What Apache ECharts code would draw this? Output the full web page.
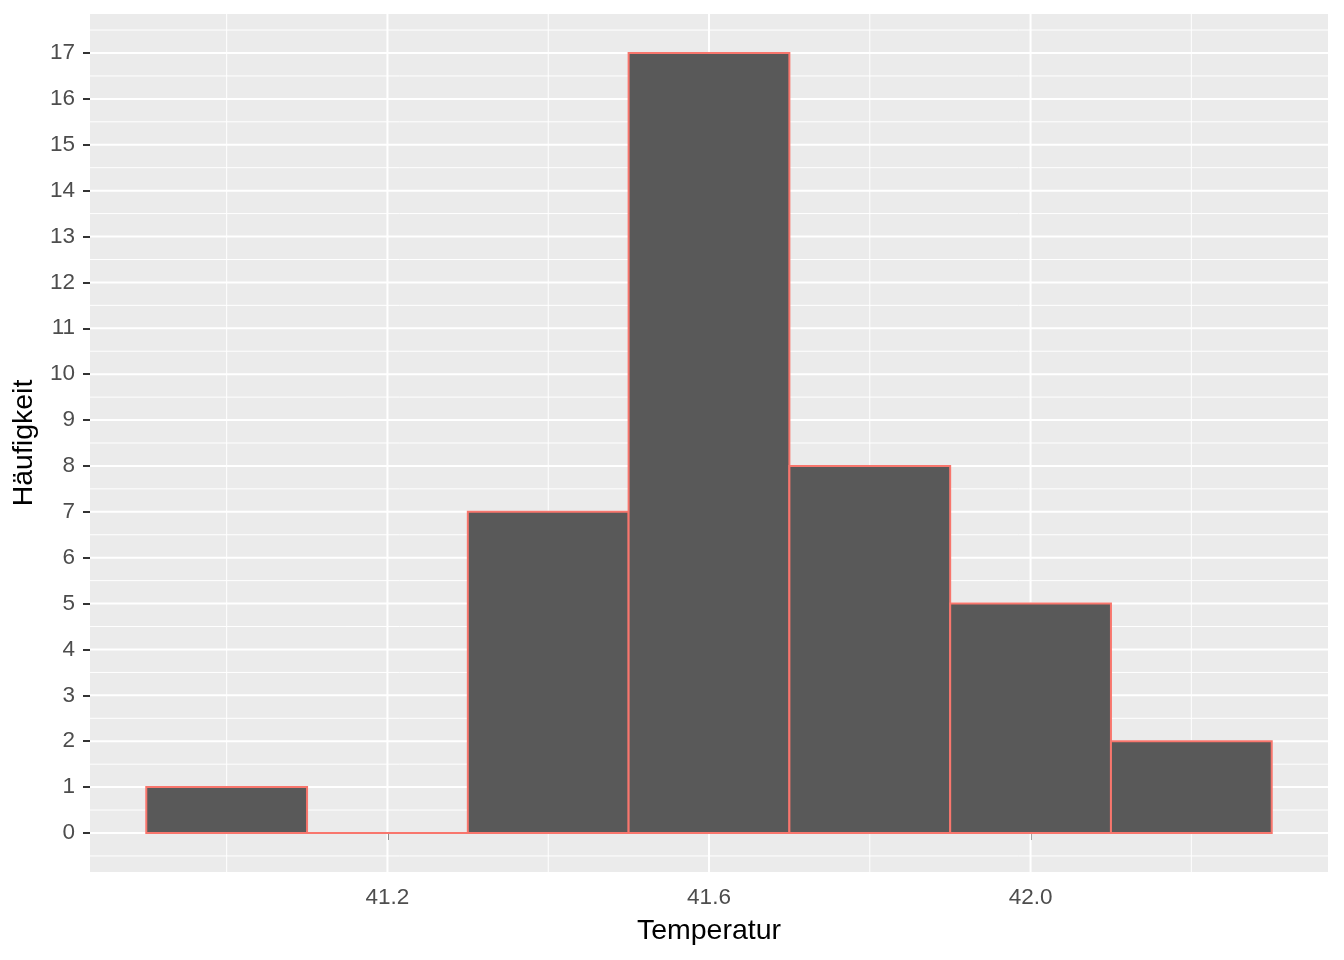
<!DOCTYPE html>
<html><head><meta charset="utf-8">
<script src="https://cdn.jsdelivr.net/npm/echarts@6/dist/echarts.min.js"></script>
<style>html,body{margin:0;padding:0;background:#fff}#c{width:1344px;height:960px}</style>
</head><body><div id="c"></div>
<script>
const binStarts = [40.9, 41.1, 41.3, 41.5, 41.7, 41.9, 42.1];
const binEnds   = [41.1, 41.3, 41.5, 41.7, 41.9, 42.1, 42.3];
const counts    = [1, 0, 7, 17, 8, 5, 2];
const xTicks = [41.2, 41.6, 42.0];
const xMinor = [41.0, 41.4, 41.8, 42.2];
const yTicks = [0,1,2,3,4,5,6,7,8,9,10,11,12,13,14,15,16,17];
const yMinor = [-0.5,0.5,1.5,2.5,3.5,4.5,5.5,6.5,7.5,8.5,9.5,10.5,11.5,12.5,13.5,14.5,15.5,16.5,17.5];
const xMin = 40.83, xMax = 42.37, yMin = -0.85, yMax = 17.85;

const font = 'Liberation Sans';
const chart = echarts.init(document.getElementById('c'), null, {renderer:'canvas'});

const gridLines = [];
xMinor.forEach(v => gridLines.push({dir:'x', v, w:1}));
yMinor.forEach(v => gridLines.push({dir:'y', v, w:1}));
xTicks.forEach(v => gridLines.push({dir:'x', v, w:2}));
yTicks.forEach(v => gridLines.push({dir:'y', v, w:2}));

chart.setOption({
  animation:false,
  textStyle:{fontFamily:font},
  grid:{left:90,right:16,top:14,bottom:88,show:true,backgroundColor:'#EBEBEB',borderWidth:0},
  xAxis:{type:'value',min:xMin,max:xMax,
    name:'Temperatur',nameLocation:'middle',nameGap:45,
    nameTextStyle:{color:'#000',fontSize:28.5,fontFamily:font},
    axisLine:{show:false},splitLine:{show:false},
    axisTick:{show:true,customValues:xTicks,length:7,lineStyle:{color:'#333',width:2}},
    axisLabel:{customValues:xTicks,color:'#4D4D4D',fontSize:22.5,fontFamily:font,margin:14,
      formatter:v=>v.toFixed(1)}},
  yAxis:{type:'value',min:yMin,max:yMax,
    name:'Häufigkeit',nameLocation:'middle',nameGap:50,nameRotate:90,
    nameTextStyle:{color:'#000',fontSize:28.5,fontFamily:font},
    axisLine:{show:false},splitLine:{show:false},
    axisTick:{show:true,customValues:yTicks,length:7,lineStyle:{color:'#333',width:2}},
    axisLabel:{customValues:yTicks,color:'#4D4D4D',fontSize:22.5,fontFamily:font,margin:15}},
  series:[
    {type:'custom',z:1,silent:true,
     data:gridLines.map(g=>[g.dir==='x'?0:1,g.v,g.w]),
     renderItem:(params,api)=>{
       const isX = api.value(0)===0, v = api.value(1), w = api.value(2);
       let p1,p2;
       if(isX){p1=api.coord([v,yMin]);p2=api.coord([v,yMax]);}
       else {p1=api.coord([xMin,v]);p2=api.coord([xMax,v]);}
       return {type:'line',shape:{x1:p1[0],y1:p1[1],x2:p2[0],y2:p2[1]},
         style:{stroke:'#FFFFFF',lineWidth:w}};
     }},
    {type:'custom',z:2,
     data:counts.map((c,i)=>[binStarts[i],binEnds[i],c]),
     renderItem:(params,api)=>{
       const a=api.coord([api.value(0),0]);
       const b=api.coord([api.value(1),api.value(2)]);
       return {type:'rect',shape:{x:a[0],y:b[1],width:b[0]-a[0],height:a[1]-b[1]},
         style:{fill:'#595959',stroke:'#F8766D',lineWidth:2}};
     }}
  ]
});
</script></body></html>
